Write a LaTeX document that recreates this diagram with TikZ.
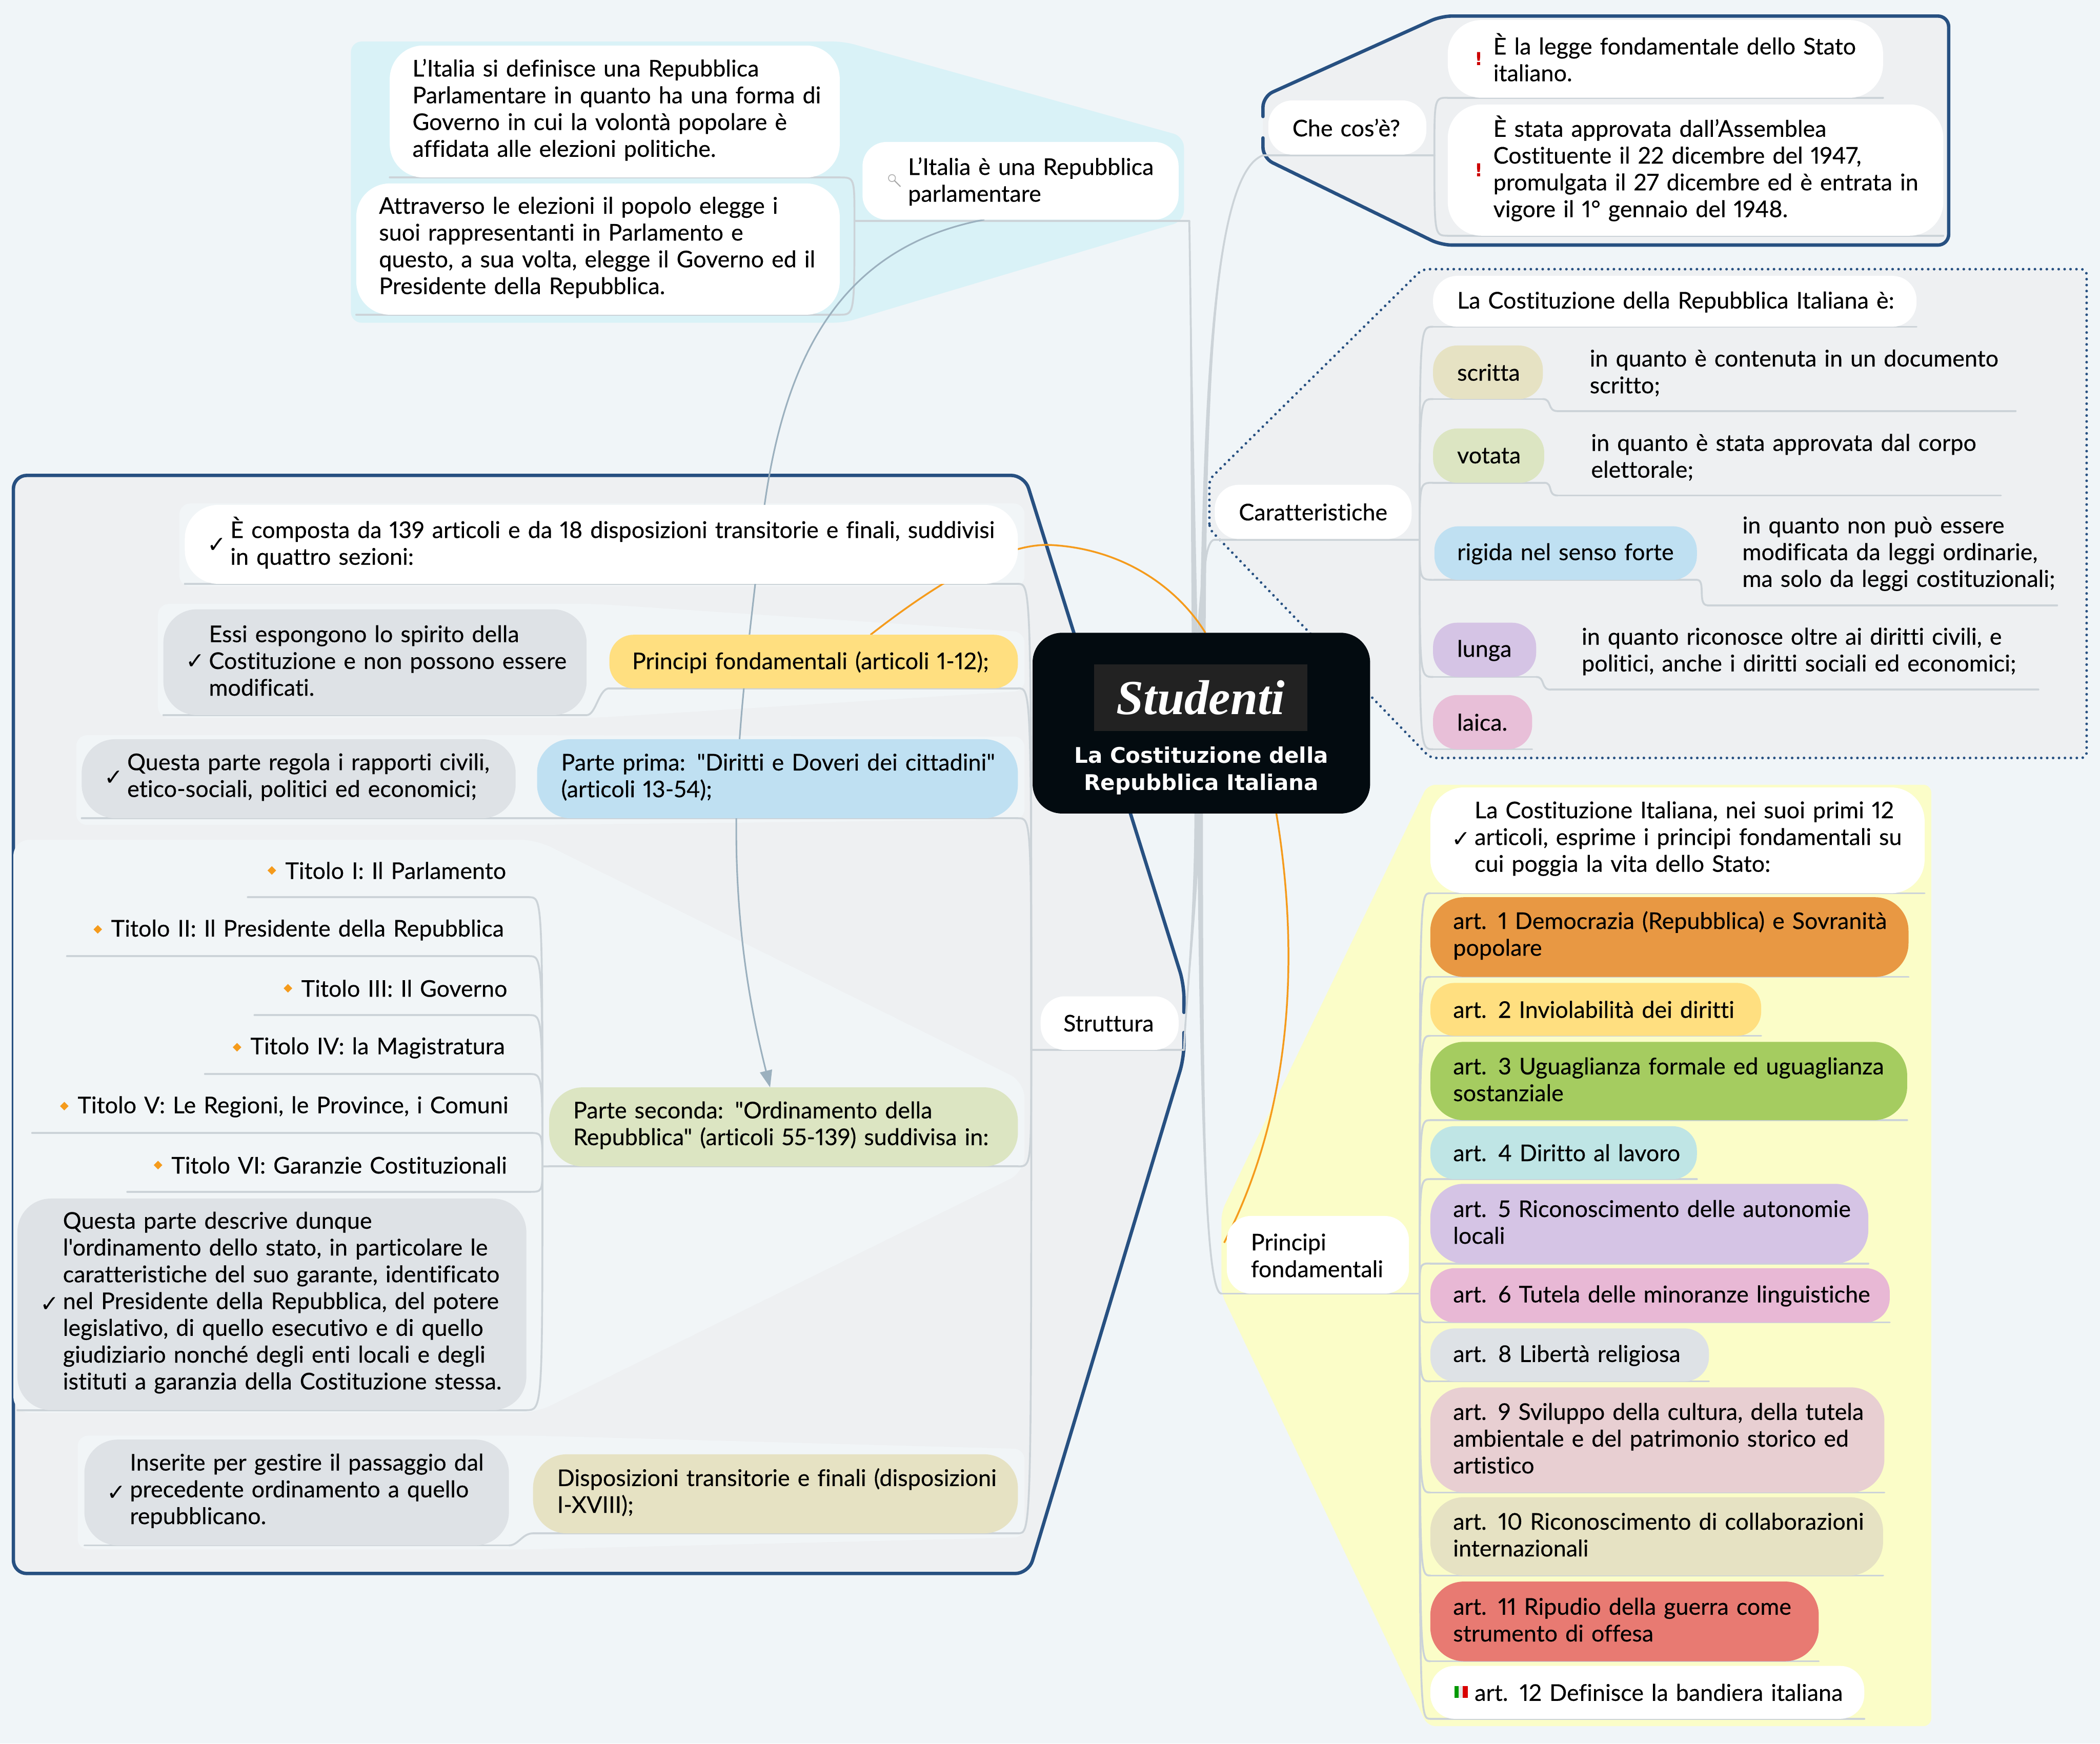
\documentclass[tikz,border=0pt]{standalone}
\usepackage{fontspec}
\setmainfont{Lato}[Ligatures={TeXOff,CommonOff},FakeBold=0.25,Numbers=Proportional]
\newfontfamily\rootfont{DejaVu Sans}
\newfontfamily\symfont{DejaVu Sans}
\newfontfamily\studfont{Liberation Serif}
\usetikzlibrary{calc,arrows.meta,shapes.geometric}
\pgfdeclarelayer{back}
\pgfdeclarelayer{wires}
\pgfsetlayers{back,wires,main}
\definecolor{bgc}{HTML}{F0F5F8}
\definecolor{sumg}{HTML}{EEF0F2}
\definecolor{subg}{HTML}{F1F5F7}
\definecolor{cyanb}{HTML}{D9F2F7}
\definecolor{yellb}{HTML}{FBFDC8}
\definecolor{connc}{HTML}{CCD3D8}
\definecolor{blueb}{HTML}{275081}
\definecolor{arrc}{HTML}{9BB0BE}
\definecolor{orc}{HTML}{F59B1C}
\definecolor{rootc}{HTML}{030B10}
\definecolor{logoc}{HTML}{222222}
\definecolor{cGrey}{HTML}{DEE2E6}
\definecolor{cYel}{HTML}{FFDF80}
\definecolor{cBlue}{HTML}{BFE0F2}
\definecolor{cGreen}{HTML}{DCE5C2}
\definecolor{cSand}{HTML}{E6E2C3}
\definecolor{cLil}{HTML}{D5C4E5}
\definecolor{cPink}{HTML}{E8BFD8}
\definecolor{cOr}{HTML}{E89843}
\definecolor{cGr2}{HTML}{A5CC60}
\definecolor{cTeal}{HTML}{BFE5E5}
\definecolor{cPi2}{HTML}{E8B8D5}
\definecolor{cRos}{HTML}{E8CFD2}
\definecolor{cRed}{HTML}{E87A72}
\def\bext{-1.5pt}
\tikzset{
 bub/.style={rectangle,inner xsep=0pt,inner ysep=0pt,outer sep=0pt,rounded corners=0.9cm,align=left,
  font=\fontsize{24.45pt}{28.45pt}\selectfont},
 tall/.style={rounded corners=1.25cm,execute at begin node={\def\bext{3.5pt}}},
 conn/.style={draw=connc,line width=2pt,line cap=round},
 bline/.style={draw=blueb,line width=3.6pt,rounded corners=0.4cm,line cap=round},
 bdot/.style={draw=blueb,line width=2.8pt,line cap=round,dash pattern=on 0pt off 6.3pt,rounded corners=0.2cm},
 sumfill/.style={fill=sumg,rounded corners=0.4cm},
 subfill/.style={fill=subg,rounded corners=0.4cm},
 orline/.style={draw=orc,line width=1.9pt},
 icon/.style={inner sep=0pt,outer sep=0pt,font=\symfont\fontsize{24pt}{24pt}\selectfont},
 excl/.style={inner sep=0pt,outer sep=0pt,text=red!80!black,font=\symfont\bfseries\fontsize{19pt}{19pt}\selectfont},
 bulletd/.style={diamond,fill=orc,inner sep=0pt,minimum size=0.32cm,outer sep=0pt},
}
\newcommand{\bub}[8][]{%
 \pgfmathsetmacro\bcx{(#3+#5)/2}\pgfmathsetmacro\bcy{(#4+#6)/2}%
 \pgfmathsetmacro\bw{(#5-#3)*0.05}\pgfmathsetmacro\bh{(#6-#4)*0.05}%
 \pgfmathsetmacro\bl{(#7-#3)*0.05}%
 \node[bub,fill=#8,text width=\bw cm,minimum width=\bw cm,minimum height=\bh cm,#1] (#2) at (\bcx,\bcy) {\leftskip=\bl cm\relax\rightskip=0pt plus 1fil\relax\BT\par\kern\bext\relax};}
\newcommand{\ul}[1]{\draw[conn] (#1.south west) -- (#1.south east);}
\newcommand{\kidR}[2]{\draw[conn] (#1) .. controls (#1 |- #2.south west) .. (#2.south west);}
\newcommand{\kidL}[2]{\draw[conn] (#1) .. controls (#1 |- #2.south east) .. (#2.south east);}
\newcommand{\sk}[2]{\draw[conn] (#1.south east) .. controls ($(#1.south east)+(7,0)$) and ($(#2.south west)+(-8,0)$) .. (#2.south west);}
\newcommand{\taper}[4]{%
 \fill[connc] ($(#1)+(-2.2,0)$) .. controls ($#2+(-1.2,0)$) and ($#3+(-.5,0)$) .. (#4) .. controls ($#3+(.5,0)$) and ($#2+(1.2,0)$) .. ($(#1)+(2.2,0)$) -- cycle;
 \draw[conn] (#1) .. controls #2 and #3 .. (#4);}
\begin{document}
\begin{tikzpicture}[x=0.05cm,y=-0.05cm]
\useasboundingbox (0,0) rectangle (1568,1302);
% ---------- nodes
\node[fill=rootc,rectangle,rounded corners=1.1cm,minimum width=12.6cm,minimum height=6.75cm,inner sep=0pt,outer sep=0pt] (root) at (897,540) {};
\node[fill=logoc,inner sep=0pt,outer sep=0pt,minimum width=7.95cm,minimum height=2.5cm,text=white,font=\studfont\bfseries\itshape\fontsize{52pt}{52pt}\selectfont] (logo) at (896.5,521) {Studenti};
\node[text=white,align=center,inner sep=0pt,font=\rootfont\bfseries\fontsize{22.9pt}{28.45pt}\selectfont] (rootlab) at (897,575.5) {La Costituzione della\\Repubblica Italiana};
% Che cos'e
\def\BT{Che cos’è?}\bub{che}{947}{75}{1065}{115.5}{965}{white}{}
\def\BT{È la legge fondamentale dello Stato\\italiano.}\bub[tall]{che1}{1081}{15}{1406}{73}{1115}{white}{}
\def\BT{È stata approvata dall’Assemblea\\Costituente il 22 dicembre del 1947,\\promulgata il 27 dicembre ed è entrata in\\vigore il 1° gennaio del 1948.}\bub[tall]{che2}{1081}{78}{1451}{176}{1115}{white}{}
\node[excl] (ex1) at (1104,44) {!};
\node[excl] (ex2) at (1104,127) {!};
% Caratteristiche
\def\BT{Caratteristiche}\bub{car}{907}{362}{1054}{402.5}{925}{white}{}
\def\BT{La Costituzione della Repubblica Italiana è:}\bub{car0}{1070}{206}{1431}{244}{1088}{white}{}
\def\BT{scritta}\bub{car1}{1070}{258}{1152}{298}{1088}{cSand}{}
\def\BT{in quanto è contenuta in un documento\\scritto;}\bub{car1t}{1163}{249}{1505}{307}{1187}{none}{}
\def\BT{votata}\bub{car2}{1070}{320}{1153}{360.5}{1088}{cGreen}{}
\def\BT{in quanto è stata approvata dal corpo\\elettorale;}\bub{car2t}{1163}{312}{1494}{370}{1188}{none}{}
\def\BT{rigida nel senso forte}\bub{car3}{1071}{393}{1267}{433}{1088}{cBlue}{}
\def\BT{in quanto non può essere\\modificata da leggi ordinarie,\\ma solo da leggi costituzionali;}\bub{car3t}{1275}{374}{1536}{452}{1301}{none}{}
\def\BT{lunga}\bub{car4}{1070}{465}{1147}{505.5}{1088}{cLil}{}
\def\BT{in quanto riconosce oltre ai diritti civili, e\\politici, anche i diritti sociali ed economici;}\bub{car4t}{1158}{457}{1522}{515}{1181}{none}{}
\def\BT{laica.}\bub{car5}{1070}{519}{1144}{559.5}{1088}{cPink}{}
% Principi
\def\BT{Principi\\fondamentali}\bub{pri}{916}{908}{1052}{966}{934}{white}{}
\def\BT{La Costituzione Italiana, nei suoi primi 12\\articoli, esprime i principi fondamentali su\\cui poggia la vita dello Stato:}\bub[tall]{a0}{1068}{588}{1437}{667}{1101}{white}{}
\def\BT{art. 1 Democrazia (Repubblica) e Sovranità\\popolare}\bub[tall]{a1}{1068}{670}{1425}{729.5}{1085}{cOr}{}
\def\BT{art. 2 Inviolabilità dei diritti}\bub{a2}{1068}{734}{1315}{773.5}{1085}{cYel}{}
\def\BT{art. 3 Uguaglianza formale ed uguaglianza\\sostanziale}\bub[tall]{a3}{1068}{778}{1424}{836.5}{1085}{cGr2}{}
\def\BT{art. 4 Diritto al lavoro}\bub{a4}{1068}{841}{1267}{880.5}{1085}{cTeal}{}
\def\BT{art. 5 Riconoscimento delle autonomie\\locali}\bub[tall]{a5}{1068}{884}{1395}{943.5}{1085}{cLil}{}
\def\BT{art. 6 Tutela delle minoranze linguistiche}\bub{a6}{1068}{947}{1411}{987.5}{1085}{cPi2}{}
\def\BT{art. 8 Libertà religiosa}\bub{a8}{1068}{992}{1276}{1031.5}{1085}{cGrey}{}
\def\BT{art. 9 Sviluppo della cultura, della tutela\\ambientale e del patrimonio storico ed\\artistico}\bub[tall]{a9}{1068}{1036}{1407}{1114.5}{1085}{cRos}{}
\def\BT{art. 10 Riconoscimento di collaborazioni\\internazionali}\bub[tall]{a10}{1068}{1118}{1406}{1176.5}{1085}{cSand}{}
\def\BT{art. 11 Ripudio della guerra come\\strumento di offesa}\bub[tall]{a11}{1068}{1181}{1358}{1240.5}{1085}{cRed}{}
\def\BT{art. 12 Definisce la bandiera italiana}\bub{a12}{1068}{1244}{1392}{1283.5}{1101}{white}{}
\node[icon] (ck0) at (1091,627) {✓};
\fill[green!60!black] (1086,1259) rectangle (1089,1268);
\fill[white!90!black] (1089,1259) rectangle (1092,1268);
\fill[red!85!black] (1092,1259) rectangle (1096,1268);
% L'Italia
\def\BT{L’Italia è una Repubblica\\parlamentare}\bub{ita}{644}{106}{880}{164}{678}{white}{}
\def\BT{L’Italia si definisce una Repubblica\\Parlamentare in quanto ha una forma di\\Governo in cui la volontà popolare è\\affidata alle elezioni politiche.}\bub[tall]{ita1}{291}{34}{627}{132.5}{308}{white}{}
\def\BT{Attraverso le elezioni il popolo elegge i\\suoi rappresentanti in Parlamento e\\questo, a sua volta, elegge il Governo ed il\\Presidente della Repubblica.}\bub[tall]{ita2}{266}{137}{627}{235}{283}{white}{}
\node[draw=gray!60,line width=0.9pt,circle,inner sep=0pt,outer sep=0pt,minimum size=0.26cm] (mag) at (666,133) {};
\draw[gray!70,line width=1.2pt] (mag.south east) -- ++(4.5,4.5);
% Struttura
\def\BT{Struttura}\bub{str}{777}{744}{880}{784}{794}{white}{}
\def\BT{È composta da 139 articoli e da 18 disposizioni transitorie e finali, suddivisi\\in quattro sezioni:}\bub[tall]{s1}{138}{377}{760}{436}{172}{white}{}
\def\BT{Principi fondamentali (articoli 1-12);}\bub{s2}{455}{474}{760}{514}{472}{cYel}{}
\def\BT{Essi espongono lo spirito della\\Costituzione e non possono essere\\modificati.}\bub[tall]{s2a}{122}{455}{438}{534}{156}{cGrey}{}
\def\BT{Parte prima: "Diritti e Doveri dei cittadini"\\(articoli 13-54);}\bub[tall]{s3}{401}{552}{760}{611}{419}{cBlue}{}
\def\BT{Questa parte regola i rapporti civili,\\etico-sociali, politici ed economici;}\bub[tall]{s3a}{61}{552}{385}{611}{95}{cGrey}{}
\def\BT{Parte seconda: "Ordinamento della\\Repubblica" (articoli 55-139) suddivisa in:}\bub[tall]{s4}{410}{812}{760}{871}{428}{cGreen}{}
\def\BT{Titolo I: Il Parlamento}\bub{t1}{185}{630}{395}{670}{213}{none}{}
\def\BT{Titolo II: Il Presidente della Repubblica}\bub{t2}{50}{674}{395}{714}{83}{none}{}
\def\BT{Titolo III: Il Governo}\bub{t3}{190}{718}{395}{758}{225}{none}{}
\def\BT{Titolo IV: la Magistratura}\bub{t4}{153}{762}{395}{802}{187}{none}{}
\def\BT{Titolo V: Le Regioni, le Province, i Comuni}\bub{t5}{24}{806}{395}{846}{58}{none}{}
\def\BT{Titolo VI: Garanzie Costituzionali}\bub{t6}{95}{850}{395}{890}{128}{none}{}
\node[bulletd] (d1) at (203,650) {};
\node[bulletd] (d2) at (73,694) {};
\node[bulletd] (d3) at (215,738) {};
\node[bulletd] (d4) at (177,782) {};
\node[bulletd] (d5) at (48,826) {};
\node[bulletd] (d6) at (118,870) {};
\def\BT{Questa parte descrive dunque\\l'ordinamento dello stato, in particolare le\\caratteristiche del suo garante, identificato\\nel Presidente della Repubblica, del potere\\legislativo, di quello esecutivo e di quello\\giudiziario nonché degli enti locali e degli\\istituti a garanzia della Costituzione stessa.}\bub[tall]{t7}{13}{895}{393}{1053}{47}{cGrey}{}
\def\BT{Disposizioni transitorie e finali (disposizioni\\I-XVIII);}\bub[tall]{s5}{398}{1086}{760}{1145}{416}{cSand}{}
\def\BT{Inserite per gestire il passaggio dal\\precedente ordinamento a quello\\repubblicano.}\bub[tall]{s5a}{63}{1075}{380}{1154}{97}{cGrey}{}
\node[icon] (ck1) at (162,407) {✓};
\node[icon] (ck2) at (146,494) {✓};
\node[icon] (ck3) at (85,581) {✓};
\node[icon] (ck4) at (37,974) {✓};
\node[icon] (ck5) at (87,1115) {✓};
% junctions
\coordinate (jChe) at (1071,116); \coordinate (bChe) at (943,116);
\coordinate (jCar) at (1060,403); \coordinate (bCar) at (907,403);
\coordinate (jPri) at (1060,966); \coordinate (bPri) at (912,966);
\coordinate (jStr) at (770,784); \coordinate (bStr) at (884,784);
\coordinate (jIta) at (638,165); \coordinate (bIta) at (888,165);
\coordinate (jTit) at (405,871);
\coordinate (rn1) at ($(root.north)+(-5,0)$);
\coordinate (rn2) at ($(root.north)+(1,0)$);
\coordinate (rn3) at ($(root.north)+(-1,0)$);
\coordinate (rs1) at ($(root.south)+(-3,0)$);
\coordinate (rs2) at ($(root.south)+(-1,0)$);
% ---------- back layer
\begin{pgfonlayer}{back}
\fill[bgc] (0,0) rectangle (1568,1302);
\fill[cyanb,rounded corners=0.4cm] (262,31) -- (630,31) -- (884,102) -- (884,165) -- (630,241) -- (262,241) -- cycle;
\fill[yellb,rounded corners=0.3cm] (1066,586) -- (1442,586) -- (1442,1289) -- (1066,1289) -- (912,966) -- (912,905) -- cycle;
\fill[sumfill] (943,116) -- (943,72) -- (1076,12) -- (1455,12) -- (1455,183) -- (1076,183) -- cycle;
\draw[bline] (943,87) -- (943,72) -- (1076,12) -- (1455,12) -- (1455,183) -- (1076,183) -- (943,118) -- (943,103);
\fill[sumfill] (903,358) -- (1062,201) -- (1558,201) -- (1558,566) -- (1068,566) -- (903,395) -- cycle;
\draw[bdot] (903,395) -- (903,358) -- (1062,201) -- (1558,201) -- (1558,566) -- (1068,566) -- cycle;
\fill[sumfill] (884,735) -- (765,355) -- (10,355) -- (10,1175) -- (768,1175) -- (884,790) -- cycle;
\draw[bline,rounded corners=0.5cm] (884,756) -- (884,735) -- (765,355) -- (10,355) -- (10,1175) -- (768,1175) -- (884,790) -- (884,771);
\fill[subfill] (134,376) rectangle (765,438);
\fill[subfill] (118,451) -- (445,451) -- (765,472) -- (765,516) -- (445,536) -- (118,536) -- cycle;
\fill[subfill] (57,549) -- (400,549) -- (765,550) -- (765,612) -- (400,616) -- (57,616) -- cycle;
\fill[subfill,rounded corners=0.6cm] (10,627) -- (400,627) -- (765,808) -- (765,875) -- (400,1055) -- (10,1055) -- cycle;
\fill[subfill] (58,1072) -- (395,1072) -- (765,1082) -- (765,1148) -- (395,1157) -- (58,1157) -- cycle;
\end{pgfonlayer}
% ---------- wires
\begin{pgfonlayer}{wires}
% branches from the root
\taper{rn1}{(890,330)}{(889,220)}{bIta}
\taper{rn2}{(900,300)}{(905,130)}{bChe}
\taper{rn3}{(898,430)}{(900,403)}{bCar}
\taper{rs1}{(893,680)}{(886,740)}{bStr}
\taper{rs2}{(897,800)}{(899,966)}{bPri}
% bars
\draw[conn] (bIta) -- (jIta);
\draw[conn] (bChe) -- (jChe);
\draw[conn] (bCar) -- (jCar);
\draw[conn] (bPri) -- (jPri);
\draw[conn] (bStr) -- (jStr);
% L'Italia
\ul{ita1}\ul{ita2}\kidL{jIta}{ita1}\kidL{jIta}{ita2}
% Che
\ul{che1}\ul{che2}\kidR{jChe}{che1}\kidR{jChe}{che2}
% Caratteristiche
\foreach \n in {car0,car1,car1t,car2,car2t,car3,car3t,car4,car4t,car5}{\ul{\n}}
\foreach \n in {car0,car1,car2,car3,car4,car5}{\kidR{jCar}{\n}}
\sk{car1}{car1t}\sk{car2}{car2t}\sk{car3}{car3t}\sk{car4}{car4t}
% Principi
\foreach \n in {a0,a1,a2,a3,a4,a5,a6,a8,a9,a10,a11,a12}{\ul{\n}\kidR{jPri}{\n}}
% Struttura
\foreach \n in {s1,s2,s3,s4,s5}{\ul{\n}\kidL{jStr}{\n}}
\ul{s2a}\sk{s2a}{s2}
\ul{s3a}\sk{s3a}{s3}
\ul{s5a}\sk{s5a}{s5}
\draw[conn] (jTit) -- (s4.south west);
\foreach \n in {t1,t2,t3,t4,t5,t6,t7}{\ul{\n}\kidL{jTit}{\n}}
% relations
\draw[draw=arrc,line width=1.7pt,-{Triangle[length=18pt,width=13pt]}]
  ($(ita.south west)+(91,0)$) .. controls (625,185) and (582,270) .. (568,400) .. controls (558,490) and (548,560) .. (550,640) .. controls (552,710) and (562,760) .. ($(s4.north west)+(165,0)$);
\draw[orline] ($(s2.north west)+(195,0)$) .. controls (700,435) and (750,405) .. (785,407) .. controls (840,410) and (880,440) .. ($(root.north)+(3,0)$);
\draw[orline] ($(root.south)+(56,0)$) .. controls (965,680) and (975,810) .. ($(pri.north west)+(-2,20)$);
\end{pgfonlayer}
\end{tikzpicture}
\end{document}
